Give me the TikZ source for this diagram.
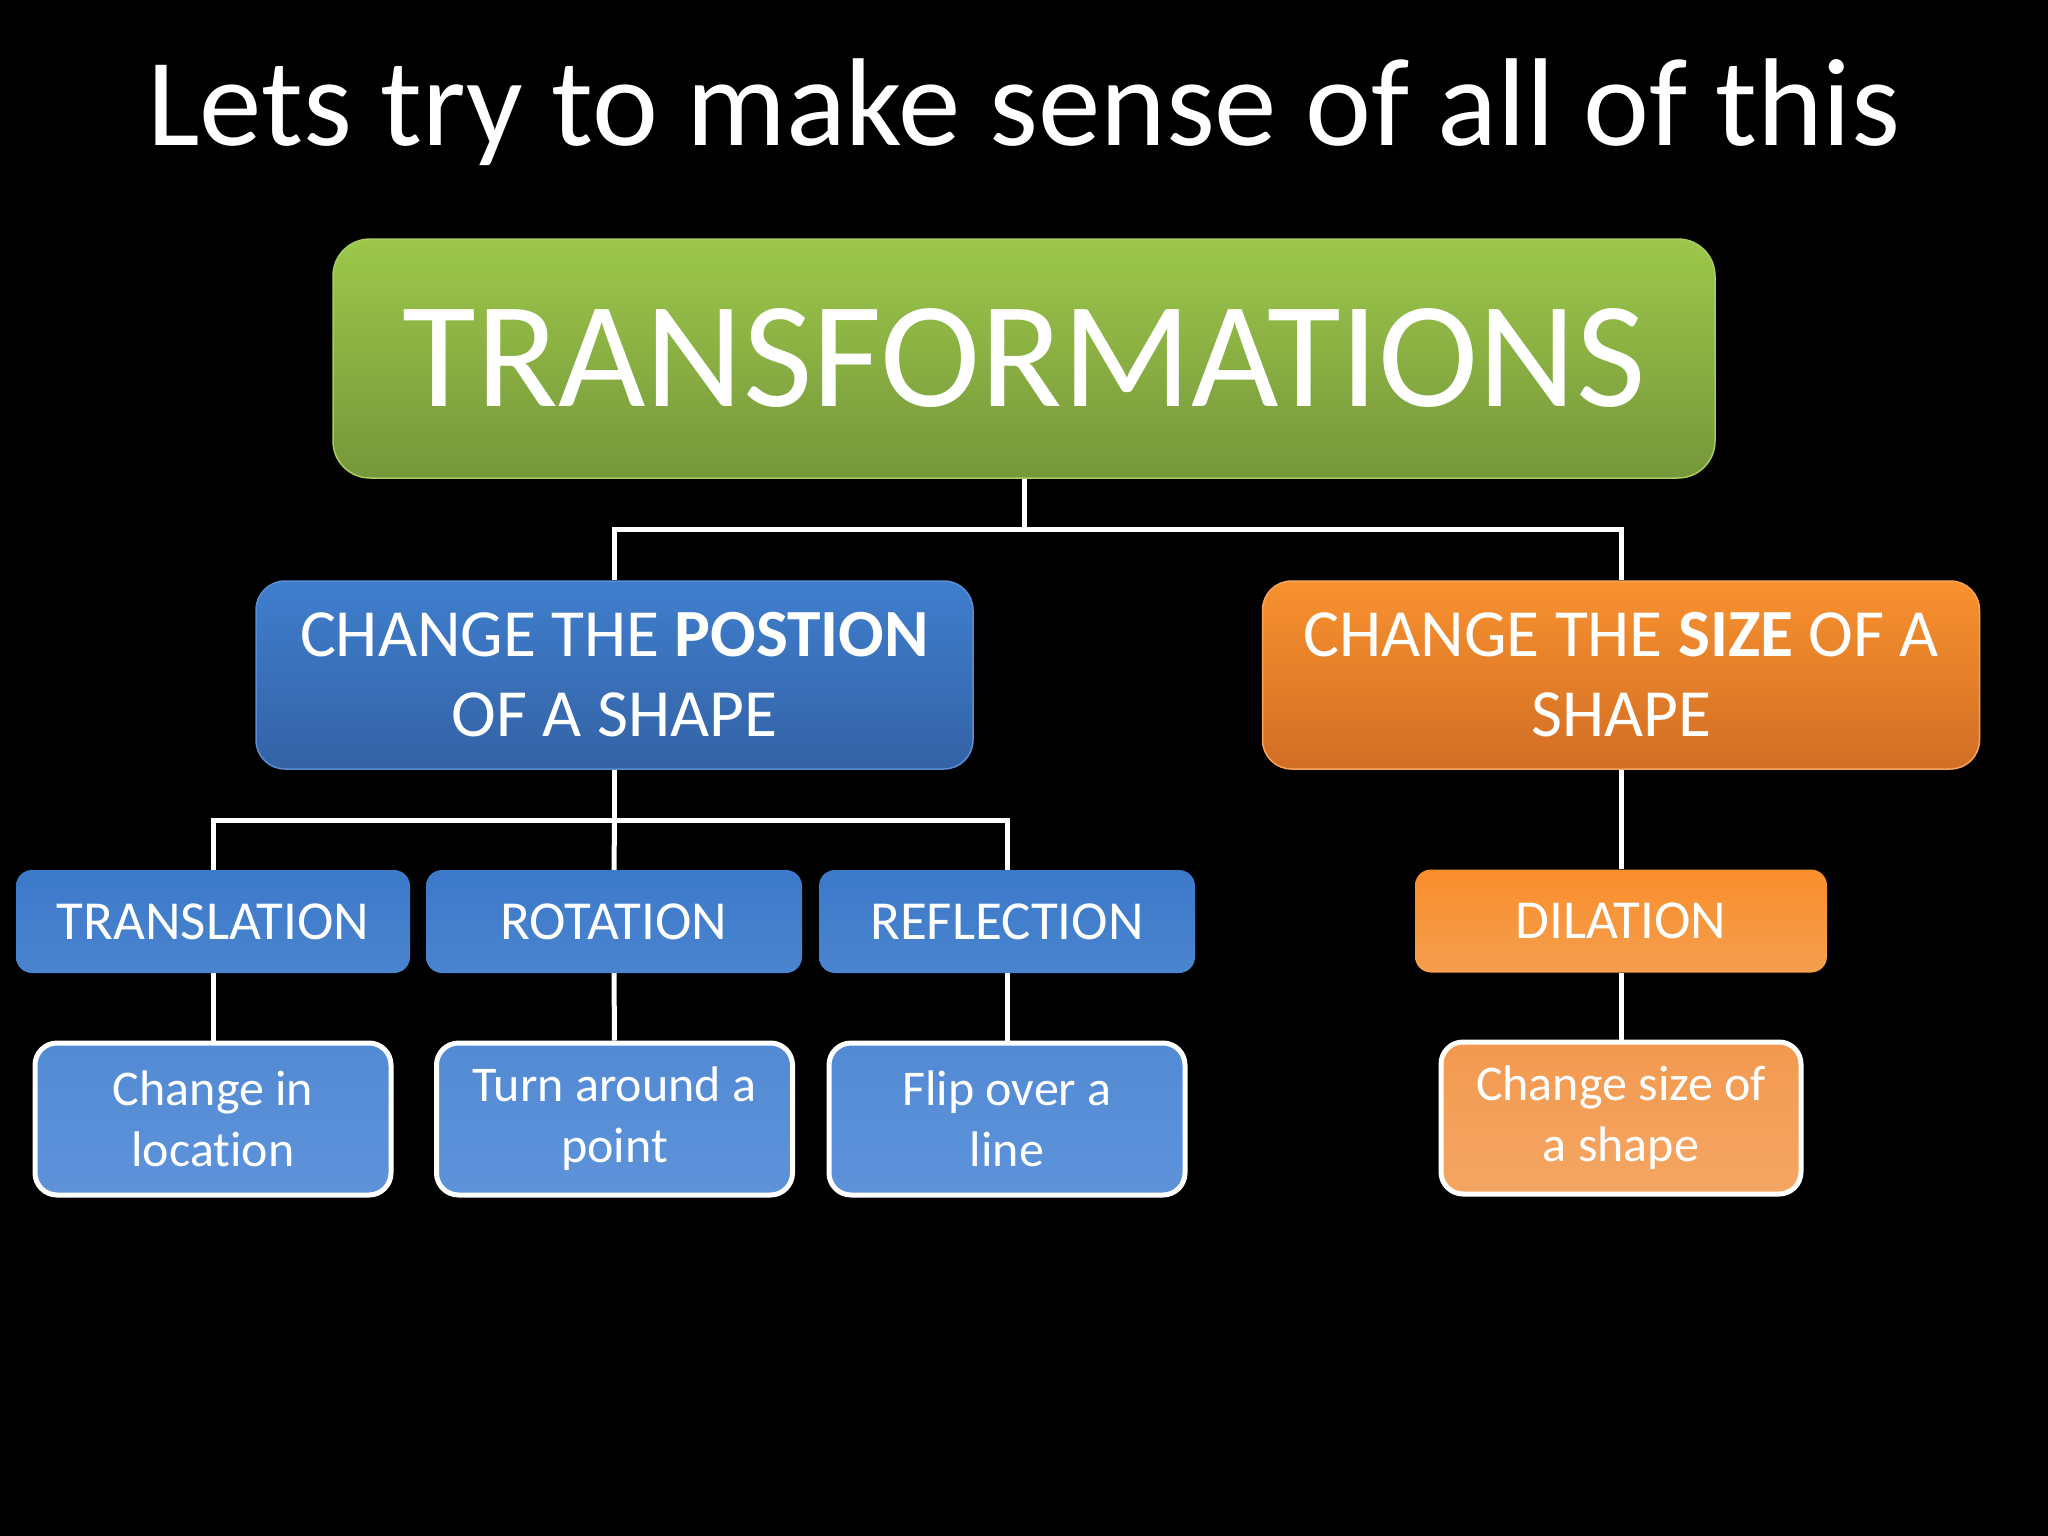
\documentclass[tikz,border=0pt]{standalone}
\usepackage{fontspec}
\setmainfont[Ligatures=NoCommon]{Carlito}
\usetikzlibrary{calc}
\pgfdeclarelayer{bg}
\pgfdeclarelayer{lines}
\pgfsetlayers{bg,lines,main}
\definecolor{grT}{HTML}{9DC74B}
\definecolor{grB}{HTML}{76973A}
\definecolor{grE}{HTML}{A6CC62}
\definecolor{bmT}{HTML}{3F7ECD}
\definecolor{bmB}{HTML}{3462A5}
\definecolor{bmE}{HTML}{5A8DD3}
\definecolor{omT}{HTML}{F8912F}
\definecolor{omB}{HTML}{D26E25}
\definecolor{omE}{HTML}{F7A45A}
\definecolor{b3T}{HTML}{3C79C9}
\definecolor{b3B}{HTML}{4A84CF}
\definecolor{o3T}{HTML}{F98E2C}
\definecolor{o3B}{HTML}{F59E4E}
\definecolor{b4T}{HTML}{528AD3}
\definecolor{b4B}{HTML}{5E93DA}
\definecolor{o4T}{HTML}{F39950}
\definecolor{o4B}{HTML}{F4A663}
\tikzset{
  every node/.style={text=white, inner sep=0pt, align=center},
  topbox/.style={rounded corners=37pt, top color=grT, bottom color=grB, draw=grE, line width=1.5pt,
     minimum width=1382pt, minimum height=239pt, font=\fontsize{151}{160}\selectfont},
  midbox/.style={rounded corners=29pt, line width=1.5pt, minimum width=717pt, minimum height=188pt,
     font=\fontsize{67.5}{80}\selectfont},
  lvlbox/.style={rounded corners=16pt, minimum height=103pt, font=\fontsize{55}{60}\selectfont},
  leafbox/.style={rounded corners=22pt, draw=white, line width=5pt, minimum height=152pt,
     font=\fontsize{50}{61}\selectfont},
  conn/.style={draw=white, line width=5pt},
}
\begin{document}
\begin{tikzpicture}[x=1pt, y=-1pt]
\begin{pgfonlayer}{bg}
\fill[black] (0,0) rectangle (2048,1536);
\end{pgfonlayer}
\useasboundingbox (0,0) rectangle (2048,1536);

\node[anchor=base, font=\fontsize{125}{140}\selectfont] (title) at (1024,146) {Lets try to make sense of all of this};

\node[topbox] (trans) at (1024,358.5) {TRANSFORMATIONS};

\node[midbox, top color=bmT, bottom color=bmB, draw=bmE] (pos) at (614.5,675)
  {CHANGE THE \textbf{POSTION}\\OF A SHAPE};
\node[midbox, top color=omT, bottom color=omB, draw=omE] (size) at (1621,675)
  {CHANGE THE \textbf{SIZE} OF A\\SHAPE};

\node[lvlbox, top color=b3T, bottom color=b3B, minimum width=394pt] (tl) at (213,921.5) {TRANSLATION};
\node[lvlbox, top color=b3T, bottom color=b3B, minimum width=376pt] (rot) at (614,921.5) {ROTATION};
\node[lvlbox, top color=b3T, bottom color=b3B, minimum width=376pt] (ref) at (1007,921.5) {REFLECTION};
\node[lvlbox, top color=o3T, bottom color=o3B, minimum width=412pt] (dil) at (1621,921) {DILATION};

\node[leafbox, top color=b4T, bottom color=b4B, minimum width=356pt] (tlx) at (213,1119) {Change in\\location};
\node[leafbox, top color=b4T, bottom color=b4B, minimum width=356pt] (rotx) at (614.5,1119) {Turn around a\\point};
\node[leafbox, top color=b4T, bottom color=b4B, minimum width=356pt] (refx) at (1007,1119) {Flip over a\\line};
\node[leafbox, top color=o4T, bottom color=o4B, minimum width=360pt] (dilx) at (1621,1118) {Change size of\\a shape};

\coordinate (busA) at (0,529);
\coordinate (busB) at (0,820);
\begin{pgfonlayer}{lines}
\draw[conn] (trans.south) -- (trans.south |- busA) -| (pos.north);
\draw[conn] (trans.south |- busA) -| (size.north);
\draw[conn] (pos.south) -- (pos.south |- busB) -| (tl.north);
\draw[conn] (pos.south |- busB) -| (ref.north);
\draw[conn] (pos.south |- busB) -- (rot.north);
\draw[conn] (size.south) -- (dil.north);
\draw[conn] (tl.south) -- (tlx.north);
\draw[conn] (rot.south) -- (rotx.north);
\draw[conn] (ref.south) -- (refx.north);
\draw[conn] (dil.south) -- (dilx.north);
\end{pgfonlayer}
\end{tikzpicture}
\end{document}
